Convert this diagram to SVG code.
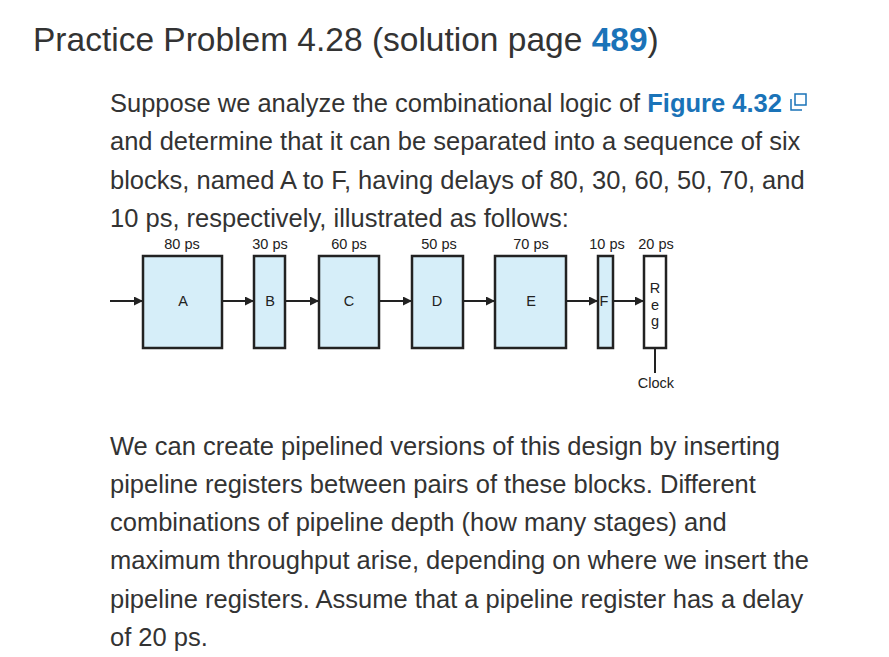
<svg xmlns="http://www.w3.org/2000/svg" width="889" height="657" viewBox="0 0 889 657">
<style>
.t{font-family:"Liberation Sans",Arial,sans-serif;fill:#333}
.b{font-size:25.5px}
.lk{fill:#1a73b8;font-weight:bold}
.blk{fill:#d6eef9;stroke:#222;stroke-width:2.5}
.l{font-family:"Liberation Sans",Arial,sans-serif;font-size:14.5px;fill:#222;text-anchor:middle}
.c{stroke:#222;stroke-width:2;fill:none;marker-end:url(#ah)}
</style>
<defs><marker id="ah" viewBox="0 0 10 10" refX="10" refY="5" markerWidth="7" markerHeight="4.5" orient="auto" markerUnits="strokeWidth"><path d="M0,0L10,5L0,10z" fill="#222"/></marker></defs>
<rect width="889" height="657" fill="#fff"/>
<text class="t" x="33" y="51" font-size="33.5">Practice Problem 4.28 (solution page <tspan class="lk">489</tspan>)</text>
<g class="t b">
<text x="110" y="112">Suppose we analyze the combinational logic of <tspan class="lk">Figure 4.32</tspan></text>
<text x="110" y="150">and determine that it can be separated into a sequence of six</text>
<text x="110" y="189">blocks, named A to F, having delays of 80, 30, 60, 50, 70, and</text>
<text x="110" y="227">10 ps, respectively, illustrated as follows:</text>
<text x="110" y="455">We can create pipelined versions of this design by inserting</text>
<text x="110" y="493">pipeline registers between pairs of these blocks. Different</text>
<text x="110" y="531">combinations of pipeline depth (how many stages) and</text>
<text x="110" y="569">maximum throughput arise, depending on where we insert the</text>
<text x="110" y="608">pipeline registers. Assume that a pipeline register has a delay</text>
<text x="110" y="646">of 20 ps.</text>
</g>
<g fill="none" stroke="#1a73b8" stroke-width="1.5"><rect x="795" y="94" width="11" height="11" fill="#fff"/><path d="M791,99v11h11"/></g>
<g id="connectors">
<line class="c" x1="110" y1="301" x2="143" y2="301"/>
<line class="c" x1="222" y1="301" x2="254" y2="301"/>
<line class="c" x1="285" y1="301" x2="319" y2="301"/>
<line class="c" x1="379" y1="301" x2="412" y2="301"/>
<line class="c" x1="463" y1="301" x2="495" y2="301"/>
<line class="c" x1="566" y1="301" x2="598" y2="301"/>
<line class="c" x1="613" y1="301" x2="644" y2="301"/>
<line x1="655" y1="348" x2="655" y2="373" stroke="#222" stroke-width="2"/>
</g>
<g id="A"><rect class="blk" x="143" y="256" width="79" height="92"/><text class="l" x="183" y="306">A</text><text class="l" x="182" y="249">80 ps</text></g>
<g id="B"><rect class="blk" x="254" y="256" width="31" height="92"/><text class="l" x="270" y="306">B</text><text class="l" x="270" y="249">30 ps</text></g>
<g id="C"><rect class="blk" x="319" y="256" width="60" height="92"/><text class="l" x="349" y="306">C</text><text class="l" x="349" y="249">60 ps</text></g>
<g id="D"><rect class="blk" x="412" y="256" width="51" height="92"/><text class="l" x="437" y="306">D</text><text class="l" x="439" y="249">50 ps</text></g>
<g id="E"><rect class="blk" x="495" y="256" width="71" height="92"/><text class="l" x="531" y="306">E</text><text class="l" x="531" y="249">70 ps</text></g>
<g id="F"><rect class="blk" x="598" y="256" width="15" height="92"/><text class="l" x="604" y="306">F</text><text class="l" x="607" y="249">10 ps</text></g>
<g id="Reg"><rect class="blk" x="644" y="256" width="22" height="92" style="fill:#fff"/><text class="l" x="655" y="293">R</text><text class="l" x="655" y="310">e</text><text class="l" x="655" y="326">g</text><text class="l" x="656" y="249">20 ps</text></g>
<g id="Clock"><text class="l" x="656" y="388" font-size="15">Clock</text></g>
</svg>
